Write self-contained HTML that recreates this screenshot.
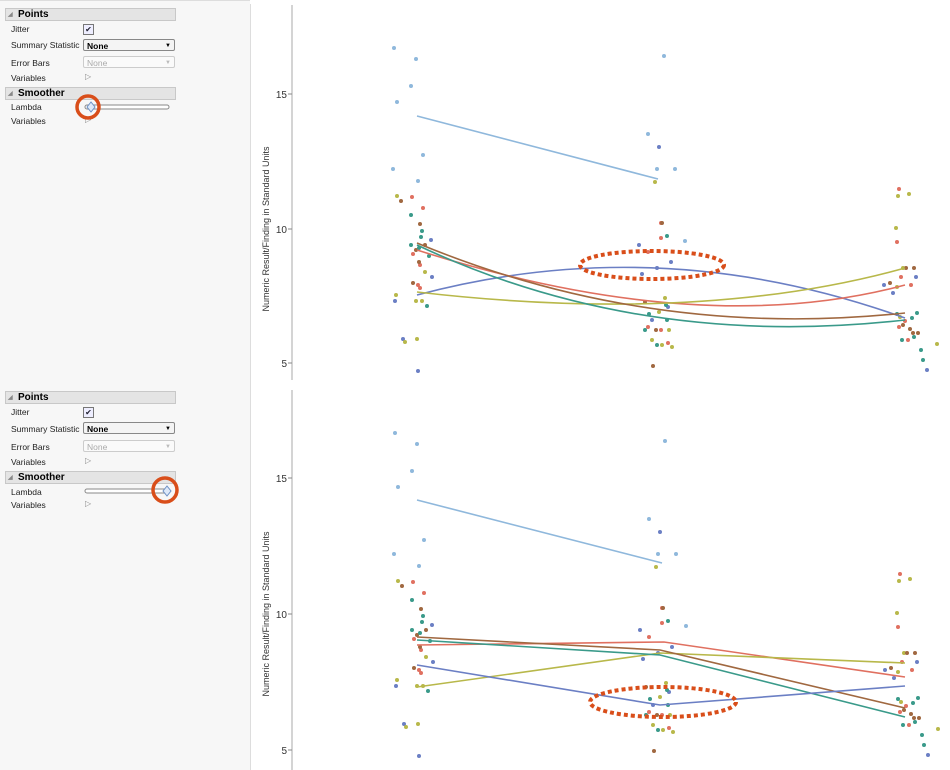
<!DOCTYPE html>
<html><head><meta charset="utf-8"><style>
body{margin:0;width:950px;height:770px;background:#fff;overflow:hidden;font-family:"Liberation Sans",sans-serif;}
.lp{position:absolute;left:0;width:250px;background:#f7f7f7;}
.hdr{position:absolute;left:5px;width:170px;height:11px;background:#e4e4e4;border:1px solid #c8c8c8;font-size:10px;font-weight:bold;line-height:11px;padding-left:12px;box-sizing:border-box;width:171px;height:13px;}
.hdr:before{content:"◢";position:absolute;left:2px;font-size:6px;color:#888;top:1px}
.lbl{position:absolute;left:11px;font-size:8.5px;color:#222;}
.sel{position:absolute;left:83px;width:92px;height:12px;border:1px solid #888;background:#f4f4f4;font-size:8.5px;font-weight:bold;line-height:12px;padding-left:3px;box-sizing:border-box;border-radius:2px}
.sel.dis{border-color:#ccc;color:#aaa;font-weight:normal;background:#fafafa}
.sel:after{content:"▼";position:absolute;right:3px;font-size:6px;color:#000}
.sel.dis:after{color:#bbb}
.cb{position:absolute;left:83px;width:9px;height:9px;border:1px solid #777;background:#eef;font-size:8px;line-height:9px;text-align:center;color:#223;}
.tri{position:absolute;left:85px;font-size:8px;color:#888}
</style></head><body>
<div class="lp" style="top:0;height:385px;border-top:1px solid #ddd"></div>
<div class="lp" style="top:385px;height:385px"></div>
<div style="position:absolute;left:250px;top:4px;width:1px;height:766px;background:#ddd"></div>

<div class="hdr" style="top:8px">Points</div>
<div class="lbl" style="top:24px">Jitter</div><div class="cb" style="top:24px">✔</div>
<div class="lbl" style="top:40px">Summary Statistic</div><div class="sel" style="top:39px">None</div>
<div class="lbl" style="top:58px">Error Bars</div><div class="sel dis" style="top:56px">None</div>
<div class="lbl" style="top:73px">Variables</div><div class="tri" style="top:72px">▷</div>
<div class="hdr" style="top:87px">Smoother</div>
<div class="lbl" style="top:102px">Lambda</div>
<div class="lbl" style="top:116px">Variables</div><div class="tri" style="top:115px">▷</div>

<div class="hdr" style="top:391px">Points</div>
<div class="lbl" style="top:407px">Jitter</div><div class="cb" style="top:407px">✔</div>
<div class="lbl" style="top:424px">Summary Statistic</div><div class="sel" style="top:422px">None</div>
<div class="lbl" style="top:442px">Error Bars</div><div class="sel dis" style="top:440px">None</div>
<div class="lbl" style="top:457px">Variables</div><div class="tri" style="top:456px">▷</div>
<div class="hdr" style="top:471px">Smoother</div>
<div class="lbl" style="top:487px">Lambda</div>
<div class="lbl" style="top:500px">Variables</div><div class="tri" style="top:499px">▷</div>

<svg width="950" height="770" style="position:absolute;left:0;top:0">
<!-- sliders -->
<rect x="85" y="105" width="84" height="4" rx="2" fill="#fff" stroke="#888"/>
<path d="M87 107 l4 -5 l4 5 l-4 5z" fill="#dde8f8" stroke="#6b8fc4"/>
<circle cx="88" cy="107" r="11" fill="none" stroke="#d94e1a" stroke-width="3.5"/>
<rect x="85" y="489" width="84" height="4" rx="2" fill="#fff" stroke="#888"/>
<path d="M163 491 l4 -5 l4 5 l-4 5z" fill="#dde8f8" stroke="#6b8fc4"/>
<circle cx="165" cy="490" r="12" fill="none" stroke="#d94e1a" stroke-width="3.5"/>

<!-- axes -->
<g font-size="10" fill="#333" text-anchor="end">
<line x1="292" y1="5" x2="292" y2="380" stroke="#aaa"/>
<line x1="292" y1="390" x2="292" y2="770" stroke="#aaa"/>
<text x="287" y="98">15</text><line x1="288" y1="94" x2="292" y2="94" stroke="#888"/>
<text x="287" y="233">10</text><line x1="288" y1="229" x2="292" y2="229" stroke="#888"/>
<text x="287" y="367">5</text><line x1="288" y1="363" x2="292" y2="363" stroke="#888"/>
<text x="287" y="482">15</text><line x1="288" y1="478" x2="292" y2="478" stroke="#888"/>
<text x="287" y="618">10</text><line x1="288" y1="614" x2="292" y2="614" stroke="#888"/>
<text x="287" y="754">5</text><line x1="288" y1="750" x2="292" y2="750" stroke="#888"/>
</g>
<text transform="translate(269,229) rotate(-90)" font-size="9" fill="#333" text-anchor="middle">Numeric Result/Finding in Standard Units</text>
<text transform="translate(269,614) rotate(-90)" font-size="9" fill="#333" text-anchor="middle">Numeric Result/Finding in Standard Units</text>

<defs><g id="pts">
<g fill="#8fb8dc"><circle cx="394" cy="48" r="2"/><circle cx="397" cy="102" r="2"/><circle cx="411" cy="86" r="2"/><circle cx="416" cy="59" r="2"/><circle cx="393" cy="169" r="2"/><circle cx="423" cy="155" r="2"/><circle cx="418" cy="181" r="2"/><circle cx="648" cy="134" r="2"/><circle cx="664" cy="56" r="2"/><circle cx="657" cy="169" r="2"/><circle cx="675" cy="169" r="2"/><circle cx="685" cy="241" r="2"/></g>
<g fill="#6b7fc4"><circle cx="431" cy="240" r="2"/><circle cx="432" cy="277" r="2"/><circle cx="395" cy="301" r="2"/><circle cx="403" cy="339" r="2"/><circle cx="418" cy="371" r="2"/><circle cx="659" cy="147" r="2"/><circle cx="639" cy="245" r="2"/><circle cx="671" cy="262" r="2"/><circle cx="657" cy="268" r="2"/><circle cx="642" cy="274" r="2"/><circle cx="668" cy="307" r="2"/><circle cx="652" cy="320" r="2"/><circle cx="916" cy="277" r="2"/><circle cx="884" cy="285" r="2"/><circle cx="893" cy="293" r="2"/><circle cx="927" cy="370" r="2"/></g>
<g fill="#e07060"><circle cx="412" cy="197" r="2"/><circle cx="423" cy="208" r="2"/><circle cx="413" cy="254" r="2"/><circle cx="420" cy="265" r="2"/><circle cx="418" cy="285" r="2"/><circle cx="420" cy="288" r="2"/><circle cx="661" cy="223" r="2"/><circle cx="661" cy="238" r="2"/><circle cx="648" cy="252" r="2"/><circle cx="648" cy="327" r="2"/><circle cx="661" cy="330" r="2"/><circle cx="668" cy="343" r="2"/><circle cx="899" cy="189" r="2"/><circle cx="897" cy="242" r="2"/><circle cx="901" cy="277" r="2"/><circle cx="911" cy="285" r="2"/><circle cx="899" cy="327" r="2"/><circle cx="905" cy="321" r="2"/><circle cx="908" cy="340" r="2"/></g>
<g fill="#b8b84a"><circle cx="397" cy="196" r="2"/><circle cx="425" cy="272" r="2"/><circle cx="396" cy="295" r="2"/><circle cx="416" cy="301" r="2"/><circle cx="422" cy="301" r="2"/><circle cx="405" cy="342" r="2"/><circle cx="417" cy="339" r="2"/><circle cx="655" cy="182" r="2"/><circle cx="665" cy="298" r="2"/><circle cx="659" cy="312" r="2"/><circle cx="669" cy="330" r="2"/><circle cx="652" cy="340" r="2"/><circle cx="662" cy="345" r="2"/><circle cx="672" cy="347" r="2"/><circle cx="898" cy="196" r="2"/><circle cx="909" cy="194" r="2"/><circle cx="896" cy="228" r="2"/><circle cx="903" cy="268" r="2"/><circle cx="897" cy="287" r="2"/><circle cx="900" cy="317" r="2"/><circle cx="937" cy="344" r="2"/></g>
<g fill="#a06840"><circle cx="401" cy="201" r="2"/><circle cx="420" cy="224" r="2"/><circle cx="425" cy="245" r="2"/><circle cx="416" cy="250" r="2"/><circle cx="419" cy="262" r="2"/><circle cx="413" cy="283" r="2"/><circle cx="662" cy="223" r="2"/><circle cx="645" cy="302" r="2"/><circle cx="656" cy="330" r="2"/><circle cx="653" cy="366" r="2"/><circle cx="906" cy="268" r="2"/><circle cx="914" cy="268" r="2"/><circle cx="890" cy="283" r="2"/><circle cx="903" cy="325" r="2"/><circle cx="910" cy="329" r="2"/><circle cx="913" cy="333" r="2"/><circle cx="918" cy="333" r="2"/></g>
<g fill="#3a9a8a"><circle cx="411" cy="215" r="2"/><circle cx="422" cy="231" r="2"/><circle cx="421" cy="237" r="2"/><circle cx="411" cy="245" r="2"/><circle cx="419" cy="248" r="2"/><circle cx="427" cy="306" r="2"/><circle cx="429" cy="256" r="2"/><circle cx="667" cy="236" r="2"/><circle cx="666" cy="305" r="2"/><circle cx="649" cy="314" r="2"/><circle cx="667" cy="320" r="2"/><circle cx="645" cy="330" r="2"/><circle cx="657" cy="345" r="2"/><circle cx="897" cy="314" r="2"/><circle cx="917" cy="313" r="2"/><circle cx="912" cy="318" r="2"/><circle cx="902" cy="340" r="2"/><circle cx="914" cy="337" r="2"/><circle cx="921" cy="350" r="2"/><circle cx="923" cy="360" r="2"/></g>
</g></defs>
<use href="#pts"/>
<use href="#pts" transform="translate(1,385)"/>

<g fill="none" stroke-width="1.6">
<!-- top smoothers -->
<path d="M417 116 L658 179" stroke="#8fb8dc"/>
<path d="M417 295 Q660 230 905 318" stroke="#6b7fc4"/>
<path d="M417 250 Q700 340 905 285" stroke="#e07060"/>
<path d="M417 292 Q700 325 905 268" stroke="#b8b84a"/>
<path d="M417 243 Q650 340 905 313" stroke="#a06840"/>
<path d="M417 245 Q640 350 905 320" stroke="#3a9a8a"/>
<!-- bottom -->
<path d="M417 500 L662 563" stroke="#8fb8dc"/>
<path d="M417 645 L664 642 L905 677" stroke="#e07060"/>
<path d="M417 687 L660 653 L905 663" stroke="#b8b84a"/>
<path d="M417 637 L660 650 L905 708" stroke="#a06840"/>
<path d="M417 640 L660 655 L905 717" stroke="#3a9a8a"/>
<path d="M417 665 L660 705 L905 686" stroke="#6b7fc4"/>
</g>
<ellipse cx="652" cy="265" rx="72" ry="14" fill="none" stroke="#d94e1a" stroke-width="4" stroke-dasharray="4 3"/>
<ellipse cx="663" cy="702" rx="73" ry="15" fill="none" stroke="#d94e1a" stroke-width="4" stroke-dasharray="4 3"/>
</svg>
</body></html>
